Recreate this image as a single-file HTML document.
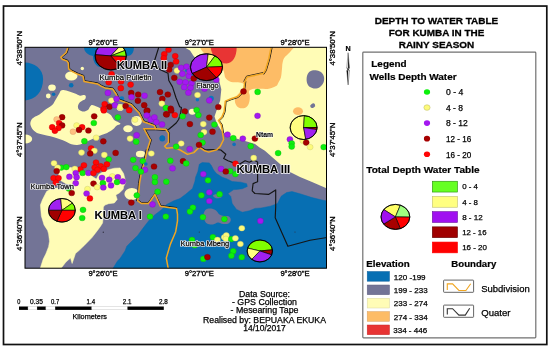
<!DOCTYPE html>
<html><head><meta charset="utf-8"><title>Depth to Water Table - Kumba</title>
<style>
html,body{margin:0;padding:0;background:#fff;}
body{width:552px;height:349px;overflow:hidden;}
svg{display:block;font-family:"Liberation Sans",Arial,sans-serif;}
</style></head><body>
<svg width="552" height="349" viewBox="0 0 552 349">
<rect width="552" height="349" fill="#fff"/>
<rect x="3.5" y="6.05" width="543.3" height="338.45" fill="none" stroke="#111" stroke-width="1.7"/>
<clipPath id="mc"><rect x="25" y="47.3" width="301.5" height="220.9"/></clipPath>
<g clip-path="url(#mc)"><rect x="25" y="47" width="302" height="222" fill="#737496"/>
<polygon points="184.0,47.0 190.0,50.5 193.4,55.7 205.0,68.0 219.0,80.0 221.3,89.2 220.2,100.6 216.8,109.8 214.5,116.6 216.8,123.5 221.3,130.4 227.1,135.0 236.2,138.4 247.7,141.8 255.0,144.1 259.6,147.4 264.9,150.8 272.0,157.0 280.0,164.0 290.0,172.0 300.0,177.0 312.0,182.0 327.0,188.5 330.0,188.5 330.0,44.0 184.0,44.0" fill="#fffcb6" />
<path d="M200.0,44.0 C184.2,44.5 199.5,45.7 200.0,47.0 C200.5,48.3 201.0,49.8 203.0,52.0 C205.0,54.2 208.7,57.2 212.0,60.0 C215.3,62.8 220.4,65.7 222.6,68.7 C224.8,71.7 224.2,75.7 225.4,77.8 C226.6,79.9 228.1,80.7 229.9,81.4 C231.7,82.2 234.1,82.0 236.2,82.3 C238.3,82.6 241.2,82.6 242.6,83.2 C244.0,83.8 245.0,84.3 244.4,86.0 C243.8,87.7 240.5,91.2 239.0,93.2 C237.5,95.2 235.9,96.0 235.3,97.7 C234.7,99.4 234.7,101.5 235.3,103.2 C235.9,104.9 237.3,107.0 239.0,107.7 C240.7,108.5 243.7,108.5 245.3,107.7 C247.0,107.0 248.2,105.2 248.9,103.2 C249.7,101.2 249.8,97.9 249.8,95.9 C249.8,93.9 248.5,92.6 248.9,91.4 C249.3,90.2 250.7,89.5 252.5,89.0 C254.3,88.5 257.1,88.8 259.8,88.7 C262.5,88.7 266.1,89.2 268.8,88.7 C271.5,88.2 274.5,87.0 276.1,86.0 C277.7,85.0 277.4,84.3 278.2,82.9 C279.0,81.5 280.3,79.8 280.9,77.5 C281.5,75.2 281.7,71.2 282.0,68.8 C282.3,66.4 282.1,65.1 282.5,63.3 C282.9,61.5 283.0,59.7 284.2,57.9 C285.4,56.1 288.1,54.0 289.6,52.4 C291.1,50.8 292.6,49.5 293.4,48.1 C294.2,46.7 310.1,44.7 294.5,44.0 C278.9,43.3 215.8,43.5 200.0,44.0 Z" fill="#fdbc66" />
<path d="M210.5,44 L236.5,44 C237.5,54 234,63.3 226.5,63.5 C218,63.5 212,57 210.5,47 Z" fill="#e83434"/>
<path d="M306.6,79.0 C306.7,77.2 307.1,74.9 308.0,73.5 C308.9,72.1 310.5,71.1 312.0,70.6 C313.5,70.1 315.4,70.1 317.0,70.4 C318.6,70.7 320.3,71.4 321.5,72.5 C322.7,73.6 323.7,75.3 324.0,77.0 C324.3,78.7 324.2,80.8 323.5,82.5 C322.8,84.2 321.4,86.0 320.0,87.0 C318.6,88.0 316.7,88.5 315.0,88.5 C313.3,88.5 311.2,87.8 310.0,87.0 C308.8,86.2 308.1,85.3 307.5,84.0 C306.9,82.7 306.5,80.8 306.6,79.0 Z" fill="#737496" />
<ellipse cx="312.7" cy="105.7" rx="2.6" ry="2.1" fill="#737496" transform="rotate(-30 312.7 105.7)"/>
<ellipse cx="298" cy="111.2" rx="5" ry="3.9" fill="#fdbc66"/>
<path d="M44.9,110.0 C47.0,108.4 50.5,106.5 52.2,105.0 C53.9,103.5 53.8,102.6 55.0,100.7 C56.2,98.8 58.3,95.3 59.3,93.6 C60.2,91.9 60.0,91.3 60.7,90.7 C61.4,90.1 62.2,89.9 63.6,90.0 C65.0,90.1 67.4,90.8 69.3,91.4 C71.2,92.0 73.2,92.9 75.0,93.6 C76.8,94.3 78.5,95.5 80.0,95.7 C81.5,95.9 83.3,94.9 84.3,95.0 C85.3,95.1 85.7,95.8 85.8,96.5 C85.9,97.2 85.6,98.6 85.0,99.3 C84.4,100.0 83.2,100.1 82.2,100.7 C81.2,101.3 80.0,101.9 79.3,102.9 C78.6,103.9 77.9,105.3 77.9,106.5 C77.9,107.7 78.3,109.2 79.3,110.0 C80.2,110.8 82.2,111.5 83.6,111.5 C85.0,111.5 86.8,110.8 87.9,110.0 C89.0,109.2 89.4,107.3 90.1,106.5 C90.8,105.7 91.1,105.0 92.2,105.0 C93.3,105.0 94.8,105.8 96.5,106.5 C98.2,107.2 100.5,108.3 102.2,109.3 C103.9,110.2 105.1,111.2 106.5,112.2 C107.9,113.2 109.6,113.9 110.8,115.1 C112.0,116.3 112.7,118.3 113.7,119.4 C114.7,120.5 115.9,120.8 117.0,121.5 C118.1,122.2 120.6,123.1 120.5,123.8 C120.4,124.5 117.8,124.8 116.5,125.7 C115.2,126.6 114.5,128.1 113.0,129.3 C111.5,130.5 109.1,132.0 107.2,132.9 C105.3,133.8 103.6,134.2 101.5,135.0 C99.4,135.8 96.6,136.9 94.4,137.9 C92.2,138.9 90.5,139.9 88.6,140.8 C86.7,141.8 84.8,142.9 82.9,143.6 C81.0,144.3 79.1,145.0 77.2,145.1 C75.3,145.2 73.4,144.9 71.5,144.3 C69.6,143.7 67.6,142.3 65.7,141.5 C63.8,140.7 62.0,140.0 60.0,139.3 C58.0,138.6 56.2,137.8 54.0,137.2 C51.8,136.5 49.3,136.0 46.7,135.4 C44.1,134.8 40.9,134.5 38.6,133.6 C36.4,132.7 34.6,131.4 33.2,129.9 C31.8,128.4 30.7,126.2 30.4,124.5 C30.1,122.8 30.7,121.2 31.3,120.0 C31.9,118.8 32.7,118.1 34.1,117.2 C35.5,116.3 37.7,115.7 39.5,114.5 C41.3,113.3 42.8,111.6 44.9,110.0 Z" fill="#fffcb6" />
<ellipse cx="25" cy="139" rx="7.2" ry="4.6" fill="#fffcb6"/>
<ellipse cx="71.3" cy="76" rx="6.2" ry="4.5" fill="#fffcb6"/>
<ellipse cx="82.3" cy="68.5" rx="1.7" ry="1.7" fill="#fffcb6"/>
<ellipse cx="52" cy="87.7" rx="3.8" ry="3.1" fill="#fffcb6"/>
<ellipse cx="48.3" cy="96" rx="2.4" ry="2.4" fill="#fffcb6"/>
<ellipse cx="128" cy="128.7" rx="4.8" ry="3.5" fill="#fffcb6"/>
<ellipse cx="136.6" cy="120.9" rx="5.3" ry="5" fill="#fffcb6"/>
<ellipse cx="140.5" cy="154" rx="4.6" ry="3.3" fill="#fffcb6"/>
<ellipse cx="131.9" cy="194" rx="7.5" ry="6" fill="#fffcb6"/>
<ellipse cx="192.3" cy="111.8" rx="3.4" ry="3" fill="#fffcb6"/>
<ellipse cx="120.2" cy="107.4" rx="3.6" ry="3.4" fill="#fffcb6"/>
<polygon points="55.2,167.9 61.2,166.3 75.7,168.2 82.0,170.5 88.0,173.5 92.5,176.5 96.3,179.0 98.9,174.2 104.1,171.2 109.2,169.5 114.4,168.2 120.0,167.9 123.6,173.6 125.1,179.3 125.8,182.2 123.7,186.5 123.2,189.3 119.4,192.9 115.8,195.0 117.2,199.4 114.3,203.0 108.6,203.7 105.0,205.0 103.4,207.0 103.2,212.0 103.1,218.0 102.6,223.0 100.4,226.5 97.5,230.4 92.0,237.6 84.8,244.9 79.3,250.3 75.5,253.5 73.5,259.5 72.1,263.5 70.5,258.0 66.0,262.0 60.5,269.0 40.0,269.0 43.1,259.3 45.8,253.9 48.6,246.7 49.5,241.2 48.6,234.0 47.6,230.4 44.0,224.9 41.3,215.9 40.4,205.0 42.3,200.0 46.6,191.5 50.9,188.7 56.7,188.0 63.8,189.4 69.5,188.0 72.0,185.5 66.0,183.7 61.0,180.8 58.1,178.7 58.8,172.9" fill="#fffcb6" stroke="#fffcb6" stroke-width="0.5" stroke-linejoin="round"/>
<path d="M24,62.4 C33,62 43.1,68 43.1,79 C43.1,92 35,100.4 24,100.4 Z" fill="#076fb3"/>
<path d="M84,44 L134,44 C134.5,52 132,56 127,56 L122,56 L101,67 C96,67 93,62 93,56 C88,55 84,52 84,47 Z" fill="#076fb3"/>
<circle cx="71.2" cy="85.2" r="2.3" fill="#076fb3"/><circle cx="53.6" cy="94.2" r="1.8" fill="#076fb3"/><circle cx="162.3" cy="138.6" r="2.9" fill="#076fb3"/><circle cx="162.3" cy="137.8" r="2.6" fill="#076fb3"/><circle cx="186.5" cy="70.5" r="1.6" fill="#0a78c0"/><circle cx="191.5" cy="74.6" r="1.5" fill="#0a78c0"/><circle cx="121.8" cy="98.6" r="2.4" fill="#0a78c0"/><circle cx="197.4" cy="99.8" r="1.7" fill="#0a78c0"/><circle cx="211.2" cy="98.4" r="2.6" fill="#0a78c0"/>
<polygon points="112.0,270.0 117.5,261.0 120.0,258.5 125.0,251.0 126.8,246.2 132.2,240.8 137.7,235.4 143.1,228.1 148.6,220.9 154.0,215.4 161.2,210.0 166.7,204.4 173.9,200.8 180.0,198.5 186.0,194.0 192.5,188.5 195.0,181.0 195.6,177.2 197.9,171.5 199.3,164.3 202.2,162.6 209.3,162.9 211.5,165.8 213.6,170.0 216.5,173.6 222.2,177.2 226.5,178.7 232.2,181.5 240.8,182.2 246.6,183.7 247.3,186.5 242.3,188.7 236.5,189.4 233.7,189.6 228.0,193.6 230.8,196.5 232.2,203.6 236.5,209.4 242.3,212.2 249.4,210.8 255.0,208.4 261.2,208.0 270.3,206.2 277.5,203.5 281.2,196.2 286.6,192.6 292.0,191.6 300.0,193.8 312.0,197.6 322.0,200.0 327.0,201.0 330.0,201.0 330.0,270.0" fill="#076fb3" stroke="#076fb3" stroke-width="0.5" stroke-linejoin="round"/>
<path d="M203.6,214.0 C203.9,212.4 204.8,210.4 206.0,209.5 C207.2,208.6 209.3,208.4 211.0,208.6 C212.7,208.8 214.6,209.5 216.0,210.5 C217.4,211.5 218.2,213.6 219.5,214.5 C220.8,215.4 222.4,215.7 224.0,216.0 C225.6,216.3 227.9,215.8 229.0,216.5 C230.1,217.2 230.9,218.8 230.8,220.0 C230.7,221.2 229.8,222.8 228.5,223.5 C227.2,224.2 224.8,224.2 223.0,224.0 C221.2,223.8 219.7,222.4 218.0,222.5 C216.3,222.6 214.8,224.2 213.0,224.4 C211.2,224.6 208.5,224.4 207.0,223.5 C205.5,222.6 204.6,220.6 204.0,219.0 C203.4,217.4 203.3,215.6 203.6,214.0 Z" fill="#737496" />
<path d="M213.0,195.5 C213.2,194.8 215.5,194.2 217.0,194.0 C218.5,193.8 221.3,193.9 222.0,194.5 C222.7,195.1 222.0,196.9 221.0,197.5 C220.0,198.1 217.3,198.5 216.0,198.2 C214.7,197.9 212.8,196.2 213.0,195.5 Z" fill="#737496" />
<polyline points="68.6,43.9 68.9,47.7 66.9,53.3 61.8,57.3 62.8,58.4 67.9,60.3 69.4,63.1 69.6,68.5 71.6,70.0 78.2,73.3 83.8,75.4 84.8,80.7 92.6,82.0 97.9,82.9 101.9,85.5 105.3,86.9 113.2,88.0 116.9,93.5 119.6,99.2 125.6,101.4 132.1,103.8 137.9,110.3 139.7,112.1 143.0,118.7 144.1,121.0 155.0,124.8 156.6,128.4" fill="none" stroke="#151515" stroke-width="0.95" stroke-linejoin="round" stroke-linecap="round"/>
<polyline points="144.0,129.8 155.6,129.8 165.8,130.5" fill="none" stroke="#151515" stroke-width="0.95" stroke-linejoin="round" stroke-linecap="round"/>
<polyline points="144.9,128.3 150.0,137.9 151.5,139.6 148.2,150.3" fill="none" stroke="#151515" stroke-width="0.95" stroke-linejoin="round" stroke-linecap="round"/>
<polyline points="146.2,149.8 143.9,160.5 141.2,169.5 140.3,172.8 138.5,183.5 137.6,194.3 136.7,200.7" fill="none" stroke="#151515" stroke-width="0.95" stroke-linejoin="round" stroke-linecap="round"/>
<polyline points="138.3,200.0 141.6,202.6 148.1,202.6 155.0,193.4 160.9,205.4 168.6,206.5 176.7,207.6" fill="none" stroke="#151515" stroke-width="0.95" stroke-linejoin="round" stroke-linecap="round"/>
<polyline points="166.7,128.9 169.5,133.1 169.5,142.4" fill="none" stroke="#151515" stroke-width="0.95" stroke-linejoin="round" stroke-linecap="round"/>
<polyline points="223.5,132.5 222.2,124.6 219.4,120.7 222.7,117.7 225.2,111.6 226.1,101.7 231.3,99.7 238.4,97.4 244.5,91.2 245.8,81.7" fill="none" stroke="#151515" stroke-width="0.95" stroke-linejoin="round" stroke-linecap="round"/>
<polyline points="243.9,81.2 246.5,76.2 262.9,72.6" fill="none" stroke="#151515" stroke-width="0.95" stroke-linejoin="round" stroke-linecap="round"/>
<polyline points="263.9,74.2 266.3,70.6 269.8,58.9 272.1,47.5 272.6,44.1" fill="none" stroke="#151515" stroke-width="0.95" stroke-linejoin="round" stroke-linecap="round"/>
<polyline points="159.8,44.0 154.3,61.5 159.8,69.6 168.0,73.3 168.8,80.5 172.5,86.9 176.0,97.7 179.7,106.8 181.4,107.6 180.7,112.7 178.8,119.2 176.2,123.0 172.4,126.3 168.5,129.5" fill="none" stroke="#151515" stroke-width="1.15" stroke-linejoin="round" stroke-linecap="round"/>
<polyline points="201.5,147.5 205.6,149.9 215.6,149.5 220.8,150.0 225.8,154.3 223.7,158.6 228.0,160.7 233.7,162.9 239.4,164.3 245.1,160.7 249.4,162.2 253.7,160.0 257.6,162.0 257.6,181.7 253.1,183.6 252.2,190.8 254.9,193.5 268.5,194.4 275.7,189.9 275.7,207.1 275.2,217.7 287.9,246.3 310.0,240.3 330.0,237.0" fill="none" stroke="#151515" stroke-width="1.15" stroke-linejoin="round" stroke-linecap="round"/>
<polyline points="67.6,44.0 67.9,47.6 66.0,52.7 60.8,57.2 62.1,59.2 67.2,61.1 68.4,63.4 68.7,69.0 71.0,70.9 77.8,74.3 83.0,76.1 84.1,81.5 92.4,83.0 97.5,83.9 101.4,86.4 105.0,87.9 112.6,88.9 116.0,94.0 118.9,100.0 125.2,102.4 131.5,104.7 137.1,111.0 138.9,112.7 142.1,119.2 143.4,121.8 154.3,125.6 155.6,128.8" fill="none" stroke="#f0a622" stroke-width="1.5" stroke-linejoin="round" stroke-linecap="round"/>
<polyline points="144.0,128.8 155.6,128.8 165.9,129.5" fill="none" stroke="#f0a622" stroke-width="1.5" stroke-linejoin="round" stroke-linecap="round"/>
<polyline points="165.9,129.5 168.5,133.4 168.5,142.4 164.6,146.2 166.6,148.2 173.7,147.5 180.1,150.0 187.5,154.4 193.8,152.6 199.3,147.1 204.7,150.8 208.7,152.1 216.8,149.8 220.2,146.4 223.6,139.5 222.5,132.7 221.3,125.0 218.4,120.6 221.9,117.1 224.2,111.4 225.3,101.1 231.0,98.8 237.9,96.5 243.6,90.8 244.8,81.6 247.1,77.0 263.1,73.6 265.4,70.2 268.8,58.7 271.1,47.3 271.6,44.0" fill="none" stroke="#f0a622" stroke-width="1.5" stroke-linejoin="round" stroke-linecap="round"/>
<polyline points="144.0,128.8 149.2,138.5 150.5,139.8 147.2,150.0 144.9,160.7 142.2,169.8 141.3,173.0 139.5,183.6 138.6,194.4 137.7,200.8 141.3,203.5 148.6,203.5 154.9,194.4 160.3,206.2 168.5,207.5 176.6,208.6 177.5,214.3 177.5,220.9 175.7,231.7 170.3,244.4 166.3,258.0 168.5,270.0" fill="none" stroke="#f0a622" stroke-width="1.5" stroke-linejoin="round" stroke-linecap="round"/>
<ellipse cx="111.6" cy="74.2" rx="3" ry="2.85" fill="#ff0505" stroke="#c00000" stroke-width="0.35"/>
<ellipse cx="108.7" cy="82.3" rx="3" ry="2.85" fill="#ff0505" stroke="#c00000" stroke-width="0.35"/>
<ellipse cx="121.0" cy="81.4" rx="3" ry="2.85" fill="#ff0505" stroke="#c00000" stroke-width="0.35"/>
<ellipse cx="120.8" cy="88.2" rx="3" ry="2.85" fill="#ff0505" stroke="#c00000" stroke-width="0.35"/>
<ellipse cx="107.9" cy="92.9" rx="3" ry="2.85" fill="#a418f0" stroke="#7a10b0" stroke-width="0.35"/>
<ellipse cx="111.4" cy="100.5" rx="3" ry="2.8" fill="#fdfa7a" stroke="#c8c870" stroke-width="0.4"/>
<ellipse cx="116.6" cy="98.9" rx="3" ry="2.85" fill="#a418f0" stroke="#7a10b0" stroke-width="0.35"/>
<ellipse cx="104.7" cy="104.2" rx="3" ry="2.85" fill="#ff0505" stroke="#c00000" stroke-width="0.35"/>
<ellipse cx="109.5" cy="106.8" rx="3" ry="2.85" fill="#a60000" stroke="#780000" stroke-width="0.35"/>
<ellipse cx="115.0" cy="105.2" rx="3" ry="2.85" fill="#a418f0" stroke="#7a10b0" stroke-width="0.35"/>
<ellipse cx="103.5" cy="109.0" rx="3" ry="2.85" fill="#ff0505" stroke="#c00000" stroke-width="0.35"/>
<ellipse cx="130.6" cy="84.6" rx="3" ry="2.85" fill="#ff0505" stroke="#c00000" stroke-width="0.35"/>
<ellipse cx="131.2" cy="92.9" rx="3" ry="2.85" fill="#a60000" stroke="#780000" stroke-width="0.35"/>
<ellipse cx="138.2" cy="94.5" rx="3" ry="2.85" fill="#a60000" stroke="#780000" stroke-width="0.35"/>
<ellipse cx="144.5" cy="95.7" rx="3" ry="2.85" fill="#a418f0" stroke="#7a10b0" stroke-width="0.35"/>
<ellipse cx="131.5" cy="97.1" rx="3" ry="2.85" fill="#a418f0" stroke="#7a10b0" stroke-width="0.35"/>
<ellipse cx="137.9" cy="100.8" rx="3" ry="2.85" fill="#a60000" stroke="#780000" stroke-width="0.35"/>
<ellipse cx="120.2" cy="107.4" rx="3" ry="2.8" fill="#fdfa7a" stroke="#c8c870" stroke-width="0.4"/>
<ellipse cx="125.6" cy="106.0" rx="3" ry="2.85" fill="#a60000" stroke="#780000" stroke-width="0.35"/>
<ellipse cx="129.2" cy="110.2" rx="3" ry="2.85" fill="#ff0505" stroke="#c00000" stroke-width="0.35"/>
<ellipse cx="144.2" cy="105.2" rx="3" ry="2.85" fill="#a60000" stroke="#780000" stroke-width="0.35"/>
<ellipse cx="147.3" cy="110.6" rx="3" ry="2.85" fill="#a60000" stroke="#780000" stroke-width="0.35"/>
<ellipse cx="147.0" cy="115.3" rx="3" ry="2.85" fill="#a418f0" stroke="#7a10b0" stroke-width="0.35"/>
<ellipse cx="150.8" cy="119.4" rx="3" ry="2.85" fill="#a418f0" stroke="#7a10b0" stroke-width="0.35"/>
<ellipse cx="154.4" cy="117.3" rx="3" ry="2.85" fill="#a418f0" stroke="#7a10b0" stroke-width="0.35"/>
<ellipse cx="156.3" cy="122.1" rx="3" ry="2.85" fill="#a418f0" stroke="#7a10b0" stroke-width="0.35"/>
<ellipse cx="162.0" cy="124.4" rx="3" ry="2.85" fill="#a418f0" stroke="#7a10b0" stroke-width="0.35"/>
<ellipse cx="117.8" cy="117.3" rx="3" ry="2.85" fill="#0cf00c" stroke="#10a810" stroke-width="0.35"/>
<ellipse cx="135.0" cy="119.7" rx="3" ry="2.8" fill="#fdfa7a" stroke="#c8c870" stroke-width="0.4"/>
<ellipse cx="160.0" cy="92.1" rx="3" ry="2.85" fill="#a60000" stroke="#780000" stroke-width="0.35"/>
<ellipse cx="162.3" cy="98.9" rx="3" ry="2.85" fill="#a60000" stroke="#780000" stroke-width="0.35"/>
<ellipse cx="167.8" cy="94.5" rx="3" ry="2.85" fill="#a60000" stroke="#780000" stroke-width="0.35"/>
<ellipse cx="161.8" cy="103.6" rx="3" ry="2.8" fill="#fdfa7a" stroke="#c8c870" stroke-width="0.4"/>
<ellipse cx="165.9" cy="107.9" rx="3" ry="2.85" fill="#0cf00c" stroke="#10a810" stroke-width="0.35"/>
<ellipse cx="166.2" cy="114.2" rx="3" ry="2.85" fill="#a60000" stroke="#780000" stroke-width="0.35"/>
<ellipse cx="170.7" cy="108.6" rx="3" ry="2.85" fill="#a60000" stroke="#780000" stroke-width="0.35"/>
<ellipse cx="136.6" cy="135.2" rx="3" ry="2.85" fill="#a418f0" stroke="#7a10b0" stroke-width="0.35"/>
<ellipse cx="130.0" cy="138.6" rx="3" ry="2.8" fill="#fdfa7a" stroke="#c8c870" stroke-width="0.4"/>
<ellipse cx="168.5" cy="49.7" rx="3" ry="2.85" fill="#ff0505" stroke="#c00000" stroke-width="0.35"/>
<ellipse cx="164.3" cy="54.2" rx="3" ry="2.85" fill="#ff0505" stroke="#c00000" stroke-width="0.35"/>
<ellipse cx="175.2" cy="56.1" rx="3" ry="2.85" fill="#ff0505" stroke="#c00000" stroke-width="0.35"/>
<ellipse cx="163.8" cy="58.2" rx="3" ry="2.85" fill="#ff0505" stroke="#c00000" stroke-width="0.35"/>
<ellipse cx="176.1" cy="61.5" rx="3" ry="2.85" fill="#ff0505" stroke="#c00000" stroke-width="0.35"/>
<ellipse cx="170.7" cy="64.8" rx="3" ry="2.85" fill="#a60000" stroke="#780000" stroke-width="0.35"/>
<ellipse cx="169.2" cy="69.6" rx="3" ry="2.85" fill="#a60000" stroke="#780000" stroke-width="0.35"/>
<ellipse cx="177.0" cy="70.6" rx="3" ry="2.8" fill="#fdfa7a" stroke="#c8c870" stroke-width="0.4"/>
<ellipse cx="181.2" cy="67.8" rx="3" ry="2.85" fill="#a418f0" stroke="#7a10b0" stroke-width="0.35"/>
<ellipse cx="186.6" cy="66.6" rx="3" ry="2.85" fill="#a418f0" stroke="#7a10b0" stroke-width="0.35"/>
<ellipse cx="182.4" cy="73.8" rx="3" ry="2.85" fill="#a418f0" stroke="#7a10b0" stroke-width="0.35"/>
<ellipse cx="188.8" cy="76.0" rx="3" ry="2.85" fill="#a418f0" stroke="#7a10b0" stroke-width="0.35"/>
<ellipse cx="189.6" cy="71.5" rx="3" ry="2.85" fill="#a418f0" stroke="#7a10b0" stroke-width="0.35"/>
<ellipse cx="174.3" cy="77.8" rx="3" ry="2.85" fill="#a60000" stroke="#780000" stroke-width="0.35"/>
<ellipse cx="179.7" cy="81.8" rx="3" ry="2.85" fill="#a418f0" stroke="#7a10b0" stroke-width="0.35"/>
<ellipse cx="185.5" cy="82.3" rx="3" ry="2.85" fill="#a418f0" stroke="#7a10b0" stroke-width="0.35"/>
<ellipse cx="191.5" cy="83.2" rx="3" ry="2.85" fill="#a418f0" stroke="#7a10b0" stroke-width="0.35"/>
<ellipse cx="184.2" cy="87.2" rx="3" ry="2.85" fill="#a418f0" stroke="#7a10b0" stroke-width="0.35"/>
<ellipse cx="190.6" cy="87.8" rx="3" ry="2.85" fill="#a418f0" stroke="#7a10b0" stroke-width="0.35"/>
<ellipse cx="188.4" cy="92.7" rx="3" ry="2.85" fill="#a418f0" stroke="#7a10b0" stroke-width="0.35"/>
<ellipse cx="193.8" cy="78.4" rx="3" ry="2.85" fill="#a60000" stroke="#780000" stroke-width="0.35"/>
<ellipse cx="197.5" cy="95.0" rx="3" ry="2.8" fill="#fdfa7a" stroke="#c8c870" stroke-width="0.4"/>
<ellipse cx="209.3" cy="100.4" rx="3" ry="2.85" fill="#a418f0" stroke="#7a10b0" stroke-width="0.35"/>
<ellipse cx="218.3" cy="107.0" rx="3" ry="2.85" fill="#a60000" stroke="#780000" stroke-width="0.35"/>
<ellipse cx="216.3" cy="79.7" rx="3" ry="2.85" fill="#a418f0" stroke="#7a10b0" stroke-width="0.35"/>
<ellipse cx="204.5" cy="88.7" rx="3" ry="2.85" fill="#a418f0" stroke="#7a10b0" stroke-width="0.35"/>
<ellipse cx="243.5" cy="91.4" rx="3" ry="2.85" fill="#a60000" stroke="#780000" stroke-width="0.35"/>
<ellipse cx="257.6" cy="91.9" rx="3" ry="2.85" fill="#0cf00c" stroke="#10a810" stroke-width="0.35"/>
<ellipse cx="257.5" cy="115.8" rx="3" ry="2.85" fill="#a418f0" stroke="#7a10b0" stroke-width="0.35"/>
<ellipse cx="196.6" cy="110.0" rx="3" ry="2.85" fill="#0cf00c" stroke="#10a810" stroke-width="0.35"/>
<ellipse cx="198.4" cy="115.1" rx="3" ry="2.85" fill="#0cf00c" stroke="#10a810" stroke-width="0.35"/>
<ellipse cx="209.3" cy="117.6" rx="3" ry="2.85" fill="#a60000" stroke="#780000" stroke-width="0.35"/>
<ellipse cx="203.3" cy="124.1" rx="3" ry="2.8" fill="#fdfa7a" stroke="#c8c870" stroke-width="0.4"/>
<ellipse cx="214.4" cy="124.5" rx="3" ry="2.85" fill="#0cf00c" stroke="#10a810" stroke-width="0.35"/>
<ellipse cx="204.0" cy="132.1" rx="3" ry="2.8" fill="#fdfa7a" stroke="#c8c870" stroke-width="0.4"/>
<ellipse cx="212.5" cy="131.7" rx="3" ry="2.85" fill="#a60000" stroke="#780000" stroke-width="0.35"/>
<ellipse cx="200.7" cy="135.0" rx="3" ry="2.85" fill="#0cf00c" stroke="#10a810" stroke-width="0.35"/>
<ellipse cx="202.5" cy="142.6" rx="3" ry="2.85" fill="#0cf00c" stroke="#10a810" stroke-width="0.35"/>
<ellipse cx="199.0" cy="144.8" rx="3" ry="2.85" fill="#a60000" stroke="#780000" stroke-width="0.35"/>
<ellipse cx="62.1" cy="117.2" rx="3" ry="2.85" fill="#a60000" stroke="#780000" stroke-width="0.35"/>
<ellipse cx="56.7" cy="119.4" rx="3" ry="2.85" fill="#ffc080" stroke="#d09060" stroke-width="0.35"/>
<ellipse cx="59.1" cy="123.0" rx="3" ry="2.85" fill="#ff0505" stroke="#c00000" stroke-width="0.35"/>
<ellipse cx="62.1" cy="125.4" rx="3" ry="2.85" fill="#a60000" stroke="#780000" stroke-width="0.35"/>
<ellipse cx="52.2" cy="127.2" rx="3" ry="2.85" fill="#ff0505" stroke="#c00000" stroke-width="0.35"/>
<ellipse cx="58.5" cy="128.1" rx="3" ry="2.85" fill="#ff0505" stroke="#c00000" stroke-width="0.35"/>
<ellipse cx="54.9" cy="130.8" rx="3" ry="2.85" fill="#ff0505" stroke="#c00000" stroke-width="0.35"/>
<ellipse cx="76.6" cy="125.4" rx="3" ry="2.8" fill="#fdfa7a" stroke="#c8c870" stroke-width="0.4"/>
<ellipse cx="82.1" cy="127.2" rx="3" ry="2.85" fill="#ff0505" stroke="#c00000" stroke-width="0.35"/>
<ellipse cx="79.0" cy="129.9" rx="3" ry="2.85" fill="#a60000" stroke="#780000" stroke-width="0.35"/>
<ellipse cx="73.0" cy="131.7" rx="3" ry="2.85" fill="#ffc080" stroke="#d09060" stroke-width="0.35"/>
<ellipse cx="88.4" cy="130.5" rx="3" ry="2.85" fill="#a60000" stroke="#780000" stroke-width="0.35"/>
<ellipse cx="94.2" cy="116.3" rx="3" ry="2.85" fill="#a60000" stroke="#780000" stroke-width="0.35"/>
<ellipse cx="93.8" cy="123.0" rx="3" ry="2.85" fill="#0cf00c" stroke="#10a810" stroke-width="0.35"/>
<ellipse cx="103.8" cy="110.5" rx="3" ry="2.85" fill="#ff0505" stroke="#c00000" stroke-width="0.35"/>
<ellipse cx="96.2" cy="137.7" rx="3" ry="2.8" fill="#fdfa7a" stroke="#c8c870" stroke-width="0.4"/>
<ellipse cx="84.4" cy="141.2" rx="3" ry="2.85" fill="#0cf00c" stroke="#10a810" stroke-width="0.35"/>
<ellipse cx="103.3" cy="141.3" rx="3" ry="2.85" fill="#a60000" stroke="#780000" stroke-width="0.35"/>
<ellipse cx="91.1" cy="148.4" rx="3" ry="2.85" fill="#ff0505" stroke="#c00000" stroke-width="0.35"/>
<ellipse cx="94.4" cy="150.8" rx="3" ry="2.8" fill="#fdfa7a" stroke="#c8c870" stroke-width="0.4"/>
<ellipse cx="90.2" cy="153.5" rx="3" ry="2.85" fill="#a60000" stroke="#780000" stroke-width="0.35"/>
<ellipse cx="81.5" cy="152.6" rx="3" ry="2.8" fill="#fdfa7a" stroke="#c8c870" stroke-width="0.4"/>
<ellipse cx="104.3" cy="154.9" rx="3" ry="2.8" fill="#fdfa7a" stroke="#c8c870" stroke-width="0.4"/>
<ellipse cx="115.6" cy="152.9" rx="3" ry="2.85" fill="#a60000" stroke="#780000" stroke-width="0.35"/>
<ellipse cx="108.7" cy="159.3" rx="3" ry="2.85" fill="#0cf00c" stroke="#10a810" stroke-width="0.35"/>
<ellipse cx="106.9" cy="164.3" rx="3" ry="2.85" fill="#ff0505" stroke="#c00000" stroke-width="0.35"/>
<ellipse cx="96.0" cy="162.5" rx="3" ry="2.85" fill="#ff0505" stroke="#c00000" stroke-width="0.35"/>
<ellipse cx="100.7" cy="166.2" rx="3" ry="2.85" fill="#ff0505" stroke="#c00000" stroke-width="0.35"/>
<ellipse cx="94.7" cy="167.6" rx="3" ry="2.85" fill="#ff0505" stroke="#c00000" stroke-width="0.35"/>
<ellipse cx="103.8" cy="168.9" rx="3" ry="2.85" fill="#ff0505" stroke="#c00000" stroke-width="0.35"/>
<ellipse cx="97.5" cy="169.8" rx="3" ry="2.85" fill="#ff0505" stroke="#c00000" stroke-width="0.35"/>
<ellipse cx="83.9" cy="165.3" rx="3" ry="2.85" fill="#ff0505" stroke="#c00000" stroke-width="0.35"/>
<ellipse cx="80.3" cy="169.4" rx="3" ry="2.85" fill="#ff0505" stroke="#c00000" stroke-width="0.35"/>
<ellipse cx="74.8" cy="168.9" rx="3" ry="2.8" fill="#fdfa7a" stroke="#c8c870" stroke-width="0.4"/>
<ellipse cx="54.0" cy="163.2" rx="3" ry="2.8" fill="#fdfa7a" stroke="#c8c870" stroke-width="0.4"/>
<ellipse cx="61.2" cy="167.6" rx="3" ry="2.85" fill="#0cf00c" stroke="#10a810" stroke-width="0.35"/>
<ellipse cx="66.3" cy="167.1" rx="3" ry="2.85" fill="#0cf00c" stroke="#10a810" stroke-width="0.35"/>
<ellipse cx="57.6" cy="167.6" rx="3" ry="2.8" fill="#fdfa7a" stroke="#c8c870" stroke-width="0.4"/>
<ellipse cx="56.7" cy="171.0" rx="3" ry="2.85" fill="#a60000" stroke="#780000" stroke-width="0.35"/>
<ellipse cx="146.7" cy="110.9" rx="3" ry="2.85" fill="#a60000" stroke="#780000" stroke-width="0.35"/>
<ellipse cx="146.7" cy="115.4" rx="3" ry="2.85" fill="#a418f0" stroke="#7a10b0" stroke-width="0.35"/>
<ellipse cx="166.7" cy="114.5" rx="3" ry="2.85" fill="#a60000" stroke="#780000" stroke-width="0.35"/>
<ellipse cx="174.8" cy="115.1" rx="3" ry="2.85" fill="#ff0505" stroke="#c00000" stroke-width="0.35"/>
<ellipse cx="171.2" cy="110.5" rx="3" ry="2.85" fill="#a60000" stroke="#780000" stroke-width="0.35"/>
<ellipse cx="184.8" cy="111.4" rx="3" ry="2.85" fill="#a60000" stroke="#780000" stroke-width="0.35"/>
<ellipse cx="182.6" cy="116.3" rx="3" ry="2.85" fill="#0cf00c" stroke="#10a810" stroke-width="0.35"/>
<ellipse cx="189.9" cy="124.1" rx="3" ry="2.85" fill="#a60000" stroke="#780000" stroke-width="0.35"/>
<ellipse cx="136.2" cy="141.7" rx="3" ry="2.85" fill="#0cf00c" stroke="#10a810" stroke-width="0.35"/>
<ellipse cx="181.2" cy="143.5" rx="3" ry="2.8" fill="#fdfa7a" stroke="#c8c870" stroke-width="0.4"/>
<ellipse cx="176.1" cy="146.6" rx="3" ry="2.85" fill="#0cf00c" stroke="#10a810" stroke-width="0.35"/>
<ellipse cx="189.7" cy="149.0" rx="3" ry="2.85" fill="#a418f0" stroke="#7a10b0" stroke-width="0.35"/>
<ellipse cx="151.3" cy="153.5" rx="3" ry="2.8" fill="#fdfa7a" stroke="#c8c870" stroke-width="0.4"/>
<ellipse cx="133.2" cy="159.8" rx="3" ry="2.85" fill="#0cf00c" stroke="#10a810" stroke-width="0.35"/>
<ellipse cx="142.8" cy="161.1" rx="3" ry="2.85" fill="#0cf00c" stroke="#10a810" stroke-width="0.35"/>
<ellipse cx="135.5" cy="168.0" rx="3" ry="2.85" fill="#0cf00c" stroke="#10a810" stroke-width="0.35"/>
<ellipse cx="144.9" cy="169.8" rx="3" ry="2.85" fill="#a418f0" stroke="#7a10b0" stroke-width="0.35"/>
<ellipse cx="140.9" cy="171.6" rx="3" ry="2.85" fill="#0cf00c" stroke="#10a810" stroke-width="0.35"/>
<ellipse cx="154.0" cy="166.5" rx="3" ry="2.85" fill="#a60000" stroke="#780000" stroke-width="0.35"/>
<ellipse cx="170.3" cy="160.7" rx="3" ry="2.85" fill="#0cf00c" stroke="#10a810" stroke-width="0.35"/>
<ellipse cx="172.5" cy="168.3" rx="3" ry="2.85" fill="#a418f0" stroke="#7a10b0" stroke-width="0.35"/>
<ellipse cx="183.0" cy="161.1" rx="3" ry="2.85" fill="#a60000" stroke="#780000" stroke-width="0.35"/>
<ellipse cx="186.2" cy="163.4" rx="3" ry="2.85" fill="#0cf00c" stroke="#10a810" stroke-width="0.35"/>
<ellipse cx="221.1" cy="168.9" rx="3" ry="2.85" fill="#a418f0" stroke="#7a10b0" stroke-width="0.35"/>
<ellipse cx="227.5" cy="134.5" rx="3" ry="2.85" fill="#a418f0" stroke="#7a10b0" stroke-width="0.35"/>
<ellipse cx="233.3" cy="138.1" rx="3" ry="2.85" fill="#0cf00c" stroke="#10a810" stroke-width="0.35"/>
<ellipse cx="242.8" cy="138.6" rx="3" ry="2.85" fill="#a418f0" stroke="#7a10b0" stroke-width="0.35"/>
<ellipse cx="254.9" cy="138.6" rx="3" ry="2.85" fill="#a60000" stroke="#780000" stroke-width="0.35"/>
<circle cx="234.1" cy="144.4" r="1.8" fill="#1170b8"/>
<ellipse cx="250.7" cy="146.2" rx="3" ry="2.85" fill="#0cf00c" stroke="#10a810" stroke-width="0.35"/>
<ellipse cx="278.1" cy="153.1" rx="3" ry="2.85" fill="#0cf00c" stroke="#10a810" stroke-width="0.35"/>
<ellipse cx="253.7" cy="157.9" rx="3" ry="2.8" fill="#fdfa7a" stroke="#c8c870" stroke-width="0.4"/>
<ellipse cx="235.5" cy="163.7" rx="3" ry="2.85" fill="#ff0505" stroke="#c00000" stroke-width="0.35"/>
<ellipse cx="289.9" cy="139.3" rx="3" ry="2.85" fill="#a418f0" stroke="#7a10b0" stroke-width="0.35"/>
<ellipse cx="291.7" cy="143.3" rx="3" ry="2.85" fill="#0cf00c" stroke="#10a810" stroke-width="0.35"/>
<ellipse cx="291.7" cy="146.6" rx="3" ry="2.85" fill="#0cf00c" stroke="#10a810" stroke-width="0.35"/>
<ellipse cx="302.9" cy="140.8" rx="3" ry="2.8" fill="#fdfa7a" stroke="#c8c870" stroke-width="0.4"/>
<ellipse cx="306.2" cy="142.6" rx="3" ry="2.85" fill="#a60000" stroke="#780000" stroke-width="0.35"/>
<ellipse cx="310.1" cy="147.1" rx="3" ry="2.8" fill="#fdfa7a" stroke="#c8c870" stroke-width="0.4"/>
<ellipse cx="323.7" cy="147.1" rx="3" ry="2.85" fill="#0cf00c" stroke="#10a810" stroke-width="0.35"/>
<ellipse cx="230.1" cy="171.1" rx="3" ry="2.85" fill="#0cf00c" stroke="#10a810" stroke-width="0.35"/>
<ellipse cx="225.8" cy="171.5" rx="3" ry="2.85" fill="#a60000" stroke="#780000" stroke-width="0.35"/>
<ellipse cx="235.4" cy="174.1" rx="3" ry="2.85" fill="#0cf00c" stroke="#10a810" stroke-width="0.35"/>
<ellipse cx="75.7" cy="173.0" rx="3" ry="2.85" fill="#a418f0" stroke="#7a10b0" stroke-width="0.35"/>
<ellipse cx="82.6" cy="173.0" rx="3" ry="2.85" fill="#0cf00c" stroke="#10a810" stroke-width="0.35"/>
<ellipse cx="88.4" cy="173.0" rx="3" ry="2.85" fill="#a418f0" stroke="#7a10b0" stroke-width="0.35"/>
<ellipse cx="93.5" cy="173.0" rx="3" ry="2.85" fill="#ff0505" stroke="#c00000" stroke-width="0.35"/>
<ellipse cx="69.4" cy="176.7" rx="3" ry="2.85" fill="#a418f0" stroke="#7a10b0" stroke-width="0.35"/>
<ellipse cx="76.6" cy="177.2" rx="3" ry="2.85" fill="#a418f0" stroke="#7a10b0" stroke-width="0.35"/>
<ellipse cx="75.7" cy="183.2" rx="3" ry="2.85" fill="#a418f0" stroke="#7a10b0" stroke-width="0.35"/>
<ellipse cx="53.6" cy="178.1" rx="3" ry="2.85" fill="#ff0505" stroke="#c00000" stroke-width="0.35"/>
<ellipse cx="58.5" cy="178.1" rx="3" ry="2.85" fill="#ff0505" stroke="#c00000" stroke-width="0.35"/>
<ellipse cx="55.8" cy="182.6" rx="3" ry="2.85" fill="#ff0505" stroke="#c00000" stroke-width="0.35"/>
<ellipse cx="68.8" cy="188.6" rx="3" ry="2.85" fill="#0cf00c" stroke="#10a810" stroke-width="0.35"/>
<ellipse cx="71.7" cy="193.0" rx="3" ry="2.85" fill="#a60000" stroke="#780000" stroke-width="0.35"/>
<ellipse cx="102.0" cy="177.8" rx="3" ry="2.85" fill="#a418f0" stroke="#7a10b0" stroke-width="0.35"/>
<ellipse cx="112.3" cy="176.3" rx="3" ry="2.8" fill="#fdfa7a" stroke="#c8c870" stroke-width="0.4"/>
<ellipse cx="109.2" cy="179.6" rx="3" ry="2.85" fill="#a418f0" stroke="#7a10b0" stroke-width="0.35"/>
<ellipse cx="117.8" cy="177.2" rx="3" ry="2.85" fill="#a418f0" stroke="#7a10b0" stroke-width="0.35"/>
<ellipse cx="93.5" cy="183.6" rx="3" ry="2.85" fill="#a60000" stroke="#780000" stroke-width="0.35"/>
<ellipse cx="102.9" cy="183.2" rx="3" ry="2.85" fill="#0cf00c" stroke="#10a810" stroke-width="0.35"/>
<ellipse cx="111.0" cy="185.4" rx="3" ry="2.85" fill="#a418f0" stroke="#7a10b0" stroke-width="0.35"/>
<ellipse cx="117.0" cy="182.1" rx="3" ry="2.85" fill="#0cf00c" stroke="#10a810" stroke-width="0.35"/>
<ellipse cx="122.8" cy="181.4" rx="3" ry="2.85" fill="#a418f0" stroke="#7a10b0" stroke-width="0.35"/>
<ellipse cx="97.1" cy="187.2" rx="3" ry="2.8" fill="#fdfa7a" stroke="#c8c870" stroke-width="0.4"/>
<ellipse cx="103.3" cy="187.5" rx="3" ry="2.85" fill="#a418f0" stroke="#7a10b0" stroke-width="0.35"/>
<ellipse cx="87.5" cy="189.0" rx="3" ry="2.8" fill="#fdfa7a" stroke="#c8c870" stroke-width="0.4"/>
<ellipse cx="86.6" cy="193.5" rx="3" ry="2.85" fill="#a418f0" stroke="#7a10b0" stroke-width="0.35"/>
<ellipse cx="89.9" cy="198.4" rx="3" ry="2.85" fill="#ff0505" stroke="#c00000" stroke-width="0.35"/>
<ellipse cx="83.0" cy="209.8" rx="3" ry="2.85" fill="#0cf00c" stroke="#10a810" stroke-width="0.35"/>
<ellipse cx="82.2" cy="218.0" rx="3" ry="2.85" fill="#0cf00c" stroke="#10a810" stroke-width="0.35"/>
<circle cx="145.8" cy="164.0" r="1.8" fill="#1170b8"/>
<ellipse cx="154.9" cy="177.2" rx="3" ry="2.85" fill="#0cf00c" stroke="#10a810" stroke-width="0.35"/>
<ellipse cx="154.9" cy="182.1" rx="3" ry="2.85" fill="#0cf00c" stroke="#10a810" stroke-width="0.35"/>
<ellipse cx="166.3" cy="181.7" rx="3" ry="2.85" fill="#0cf00c" stroke="#10a810" stroke-width="0.35"/>
<ellipse cx="157.6" cy="191.7" rx="3" ry="2.85" fill="#0cf00c" stroke="#10a810" stroke-width="0.35"/>
<ellipse cx="136.8" cy="195.3" rx="3" ry="2.85" fill="#0cf00c" stroke="#10a810" stroke-width="0.35"/>
<ellipse cx="131.3" cy="202.6" rx="3" ry="2.85" fill="#a60000" stroke="#780000" stroke-width="0.35"/>
<ellipse cx="152.5" cy="204.4" rx="3" ry="2.85" fill="#a418f0" stroke="#7a10b0" stroke-width="0.35"/>
<ellipse cx="150.0" cy="216.5" rx="3" ry="2.85" fill="#0cf00c" stroke="#10a810" stroke-width="0.35"/>
<ellipse cx="165.8" cy="216.5" rx="3" ry="2.85" fill="#0cf00c" stroke="#10a810" stroke-width="0.35"/>
<ellipse cx="203.3" cy="174.1" rx="3" ry="2.85" fill="#a418f0" stroke="#7a10b0" stroke-width="0.35"/>
<ellipse cx="208.0" cy="180.3" rx="3" ry="2.85" fill="#0cf00c" stroke="#10a810" stroke-width="0.35"/>
<ellipse cx="201.4" cy="195.3" rx="3" ry="2.85" fill="#0cf00c" stroke="#10a810" stroke-width="0.35"/>
<ellipse cx="209.3" cy="192.3" rx="3" ry="2.85" fill="#a418f0" stroke="#7a10b0" stroke-width="0.35"/>
<ellipse cx="219.6" cy="194.2" rx="3" ry="2.85" fill="#0cf00c" stroke="#10a810" stroke-width="0.35"/>
<ellipse cx="209.3" cy="201.0" rx="3" ry="2.85" fill="#a418f0" stroke="#7a10b0" stroke-width="0.35"/>
<ellipse cx="192.9" cy="207.5" rx="3" ry="2.85" fill="#0cf00c" stroke="#10a810" stroke-width="0.35"/>
<ellipse cx="189.9" cy="211.6" rx="3" ry="2.85" fill="#0cf00c" stroke="#10a810" stroke-width="0.35"/>
<ellipse cx="202.9" cy="217.2" rx="3" ry="2.85" fill="#0cf00c" stroke="#10a810" stroke-width="0.35"/>
<ellipse cx="224.4" cy="219.1" rx="3" ry="2.85" fill="#0cf00c" stroke="#10a810" stroke-width="0.35"/>
<ellipse cx="192.0" cy="239.9" rx="3" ry="2.85" fill="#0cf00c" stroke="#10a810" stroke-width="0.35"/>
<ellipse cx="194.7" cy="245.3" rx="3" ry="2.85" fill="#0cf00c" stroke="#10a810" stroke-width="0.35"/>
<ellipse cx="212.9" cy="237.2" rx="3" ry="2.85" fill="#0cf00c" stroke="#10a810" stroke-width="0.35"/>
<ellipse cx="217.4" cy="239.9" rx="3" ry="2.8" fill="#fdfa7a" stroke="#c8c870" stroke-width="0.4"/>
<ellipse cx="224.3" cy="237.2" rx="3" ry="2.8" fill="#fdfa7a" stroke="#c8c870" stroke-width="0.4"/>
<ellipse cx="203.3" cy="258.9" rx="3" ry="2.85" fill="#0cf00c" stroke="#10a810" stroke-width="0.35"/>
<ellipse cx="207.4" cy="257.1" rx="3" ry="2.85" fill="#a60000" stroke="#780000" stroke-width="0.35"/>
<ellipse cx="260.4" cy="220.9" rx="3" ry="2.85" fill="#a418f0" stroke="#7a10b0" stroke-width="0.35"/>
<ellipse cx="241.8" cy="228.2" rx="3" ry="2.8" fill="#fdfa7a" stroke="#c8c870" stroke-width="0.4"/>
<ellipse cx="226.3" cy="235.4" rx="3" ry="2.8" fill="#fdfa7a" stroke="#c8c870" stroke-width="0.4"/>
<ellipse cx="225.9" cy="238.8" rx="3" ry="2.8" fill="#fdfa7a" stroke="#c8c870" stroke-width="0.4"/>
<ellipse cx="231.4" cy="239.1" rx="3" ry="2.85" fill="#0cf00c" stroke="#10a810" stroke-width="0.35"/>
<ellipse cx="235.4" cy="238.2" rx="3" ry="2.8" fill="#fdfa7a" stroke="#c8c870" stroke-width="0.4"/>
<ellipse cx="240.4" cy="244.0" rx="3" ry="2.8" fill="#fdfa7a" stroke="#c8c870" stroke-width="0.4"/>
<ellipse cx="233.2" cy="251.2" rx="3" ry="2.85" fill="#0cf00c" stroke="#10a810" stroke-width="0.35"/>
<ellipse cx="231.4" cy="255.7" rx="3" ry="2.85" fill="#0cf00c" stroke="#10a810" stroke-width="0.35"/>
<ellipse cx="241.7" cy="257.2" rx="3" ry="2.85" fill="#0cf00c" stroke="#10a810" stroke-width="0.35"/>
<circle cx="103.3" cy="232.2" r="0.7" fill="#334"/><circle cx="199.3" cy="232.1" r="0.6" fill="#334"/><circle cx="295" cy="232" r="0.6" fill="#334"/>
<path d="M110.70,55.90 L95.16,54.68 A15.6,14 0 0 1 120.73,45.18 Z" fill="#a020f0" stroke="#000" stroke-width="0.63" stroke-linejoin="round"/>
<path d="M110.70,55.90 L120.73,45.18 A15.6,14 0 0 1 125.06,50.43 Z" fill="#ffff80" stroke="#000" stroke-width="0.63" stroke-linejoin="round"/>
<path d="M110.70,55.90 L125.06,50.43 A15.6,14 0 0 1 126.29,56.39 Z" fill="#80ff00" stroke="#000" stroke-width="0.63" stroke-linejoin="round"/>
<path d="M110.70,55.90 L126.29,56.39 A15.6,14 0 0 1 120.30,66.93 Z" fill="#ff0000" stroke="#000" stroke-width="0.63" stroke-linejoin="round"/>
<path d="M110.70,55.90 L120.30,66.93 A15.6,14 0 0 1 95.16,54.68 Z" fill="#a00000" stroke="#000" stroke-width="0.63" stroke-linejoin="round"/>
<ellipse cx="110.7" cy="55.9" rx="15.6" ry="14" fill="none" stroke="#000" stroke-width="0.9"/>
<path d="M206.50,67.20 L192.37,73.49 A16,13.4 0 0 1 208.17,53.87 Z" fill="#a020f0" stroke="#000" stroke-width="0.63" stroke-linejoin="round"/>
<path d="M206.50,67.20 L208.17,53.87 A16,13.4 0 0 1 214.98,55.84 Z" fill="#ffff80" stroke="#000" stroke-width="0.63" stroke-linejoin="round"/>
<path d="M206.50,67.20 L214.98,55.84 A16,13.4 0 0 1 222.48,66.50 Z" fill="#80ff00" stroke="#000" stroke-width="0.63" stroke-linejoin="round"/>
<path d="M206.50,67.20 L222.48,66.50 A16,13.4 0 0 1 216.35,77.76 Z" fill="#ff0000" stroke="#000" stroke-width="0.63" stroke-linejoin="round"/>
<path d="M206.50,67.20 L216.35,77.76 A16,13.4 0 0 1 192.37,73.49 Z" fill="#a00000" stroke="#000" stroke-width="0.63" stroke-linejoin="round"/>
<ellipse cx="206.5" cy="67.2" rx="16" ry="13.4" fill="none" stroke="#000" stroke-width="0.9"/>
<path d="M61.90,210.30 L48.50,210.30 A13.4,11.8 0 0 1 60.73,198.54 Z" fill="#a020f0" stroke="#000" stroke-width="0.63" stroke-linejoin="round"/>
<path d="M61.90,210.30 L60.73,198.54 A13.4,11.8 0 0 1 72.46,203.04 Z" fill="#ffff80" stroke="#000" stroke-width="0.63" stroke-linejoin="round"/>
<path d="M61.90,210.30 L72.46,203.04 A13.4,11.8 0 0 1 75.30,210.30 Z" fill="#80ff00" stroke="#000" stroke-width="0.63" stroke-linejoin="round"/>
<path d="M61.90,210.30 L75.30,210.30 A13.4,11.8 0 0 1 56.88,221.24 Z" fill="#ff0000" stroke="#000" stroke-width="0.63" stroke-linejoin="round"/>
<path d="M61.90,210.30 L56.88,221.24 A13.4,11.8 0 0 1 48.50,210.30 Z" fill="#a00000" stroke="#000" stroke-width="0.63" stroke-linejoin="round"/>
<ellipse cx="61.9" cy="210.3" rx="13.4" ry="11.8" fill="none" stroke="#000" stroke-width="0.9"/>
<path d="M303.65,127.55 L305.75,139.35 A13.45,11.95 0 1 1 304.35,115.62 Z" fill="#ffff80" stroke="#000" stroke-width="0.63" stroke-linejoin="round"/>
<path d="M303.65,127.55 L304.35,115.62 A13.45,11.95 0 0 1 317.10,127.55 Z" fill="#80ff00" stroke="#000" stroke-width="0.63" stroke-linejoin="round"/>
<path d="M303.65,127.55 L317.10,127.55 A13.45,11.95 0 0 1 317.09,127.97 Z" fill="#a00000" stroke="#000" stroke-width="0.63" stroke-linejoin="round"/>
<path d="M303.65,127.55 L317.09,127.97 A13.45,11.95 0 0 1 316.90,129.63 Z" fill="#ff0000" stroke="#000" stroke-width="0.63" stroke-linejoin="round"/>
<path d="M303.65,127.55 L316.90,129.63 A13.45,11.95 0 0 1 305.75,139.35 Z" fill="#a020f0" stroke="#000" stroke-width="0.63" stroke-linejoin="round"/>
<ellipse cx="303.65" cy="127.55" rx="13.45" ry="11.95" fill="none" stroke="#000" stroke-width="0.9"/>
<path d="M259.85,250.95 L247.63,248.12 A12.65,10.95 0 0 1 272.43,249.81 Z" fill="#80ff00" stroke="#000" stroke-width="0.63" stroke-linejoin="round"/>
<path d="M259.85,250.95 L272.43,249.81 A12.65,10.95 0 0 1 271.66,254.87 Z" fill="#a00000" stroke="#000" stroke-width="0.63" stroke-linejoin="round"/>
<path d="M259.85,250.95 L271.66,254.87 A12.65,10.95 0 0 1 251.72,259.34 Z" fill="#a020f0" stroke="#000" stroke-width="0.63" stroke-linejoin="round"/>
<path d="M259.85,250.95 L251.72,259.34 A12.65,10.95 0 0 1 247.63,248.12 Z" fill="#ffff80" stroke="#000" stroke-width="0.63" stroke-linejoin="round"/>
<ellipse cx="259.85" cy="250.95" rx="12.65" ry="10.95" fill="none" stroke="#000" stroke-width="0.9"/>
<text x="116.7" y="69.2" font-size="10" font-weight="bold" text-anchor="start" textLength="50.4" lengthAdjust="spacingAndGlyphs" fill="none" stroke="#fff" stroke-width="1.5" stroke-linejoin="round">KUMBA II</text><text x="116.7" y="69.2" font-size="10" font-weight="bold" text-anchor="start" textLength="50.4" lengthAdjust="spacingAndGlyphs" fill="#000" stroke="#000" stroke-width="0.1">KUMBA II</text>
<text x="99.6" y="79.8" font-size="6.7" font-weight="normal" text-anchor="start" textLength="52" lengthAdjust="spacingAndGlyphs" fill="none" stroke="#fff" stroke-width="1.5" stroke-linejoin="round">Kumba Pulletin</text><text x="99.6" y="79.8" font-size="6.7" font-weight="normal" text-anchor="start" textLength="52" lengthAdjust="spacingAndGlyphs" fill="#111" stroke="#111" stroke-width="0.28">Kumba Pulletin</text>
<text x="196.3" y="87.7" font-size="6.4" font-weight="normal" text-anchor="start" textLength="22.4" lengthAdjust="spacingAndGlyphs" fill="none" stroke="#fff" stroke-width="1.5" stroke-linejoin="round">Fiango</text><text x="196.3" y="87.7" font-size="6.4" font-weight="normal" text-anchor="start" textLength="22.4" lengthAdjust="spacingAndGlyphs" fill="#111" stroke="#111" stroke-width="0.28">Fiango</text>
<text x="256" y="136.7" font-size="6.6" font-weight="bold" text-anchor="start" textLength="17" lengthAdjust="spacingAndGlyphs" fill="none" stroke="#fff" stroke-width="1.2" stroke-linejoin="round">Ntam</text><text x="256" y="136.7" font-size="6.6" font-weight="bold" text-anchor="start" textLength="17" lengthAdjust="spacingAndGlyphs" fill="#000" stroke="#000" stroke-width="0.1">Ntam</text>
<text x="236.5" y="172.9" font-size="10.5" font-weight="bold" text-anchor="start" textLength="53.6" lengthAdjust="spacingAndGlyphs" fill="none" stroke="#fff" stroke-width="1.5" stroke-linejoin="round">KUMBA III</text><text x="236.5" y="172.9" font-size="10.5" font-weight="bold" text-anchor="start" textLength="53.6" lengthAdjust="spacingAndGlyphs" fill="#000" stroke="#000" stroke-width="0.1">KUMBA III</text>
<text x="30.6" y="188.5" font-size="6.8" font-weight="normal" text-anchor="start" textLength="43.4" lengthAdjust="spacingAndGlyphs" fill="none" stroke="#fff" stroke-width="1.5" stroke-linejoin="round">Kumba Town</text><text x="30.6" y="188.5" font-size="6.8" font-weight="normal" text-anchor="start" textLength="43.4" lengthAdjust="spacingAndGlyphs" fill="#111" stroke="#111" stroke-width="0.28">Kumba Town</text>
<text x="94.6" y="219.2" font-size="10.4" font-weight="bold" text-anchor="start" textLength="47.3" lengthAdjust="spacingAndGlyphs" fill="none" stroke="#fff" stroke-width="1.5" stroke-linejoin="round">KUMBA I</text><text x="94.6" y="219.2" font-size="10.4" font-weight="bold" text-anchor="start" textLength="47.3" lengthAdjust="spacingAndGlyphs" fill="#000" stroke="#000" stroke-width="0.1">KUMBA I</text>
<text x="180.6" y="245.6" font-size="6.6" font-weight="normal" text-anchor="start" textLength="48.7" lengthAdjust="spacingAndGlyphs" fill="none" stroke="#fff" stroke-width="1.5" stroke-linejoin="round">Kumba Mbeng</text><text x="180.6" y="245.6" font-size="6.6" font-weight="normal" text-anchor="start" textLength="48.7" lengthAdjust="spacingAndGlyphs" fill="#111" stroke="#111" stroke-width="0.28">Kumba Mbeng</text></g>
<rect x="25" y="47.3" width="301.5" height="220.9" fill="none" stroke="#000" stroke-width="1"/>
<text x="103" y="44.8" font-size="6.9" text-anchor="middle" textLength="29.2" lengthAdjust="spacingAndGlyphs" stroke="#000" stroke-width="0.3" >9°26'0"E</text>
<text x="103" y="276.1" font-size="6.9" text-anchor="middle" textLength="29.2" lengthAdjust="spacingAndGlyphs" stroke="#000" stroke-width="0.3" >9°26'0"E</text>
<text x="199.3" y="44.8" font-size="6.9" text-anchor="middle" textLength="29.2" lengthAdjust="spacingAndGlyphs" stroke="#000" stroke-width="0.3" >9°27'0"E</text>
<text x="199.3" y="276.1" font-size="6.9" text-anchor="middle" textLength="29.2" lengthAdjust="spacingAndGlyphs" stroke="#000" stroke-width="0.3" >9°27'0"E</text>
<text x="295" y="44.8" font-size="6.9" text-anchor="middle" textLength="29.2" lengthAdjust="spacingAndGlyphs" stroke="#000" stroke-width="0.3" >9°28'0"E</text>
<text x="295" y="276.1" font-size="6.9" text-anchor="middle" textLength="29.2" lengthAdjust="spacingAndGlyphs" stroke="#000" stroke-width="0.3" >9°28'0"E</text>
<text x="21.8" y="48.3" font-size="6.9" text-anchor="middle" textLength="34.6" lengthAdjust="spacingAndGlyphs" stroke="#000" stroke-width="0.3" transform="rotate(-90 21.8 48.3)">4°38'50"N</text>
<text x="335.4" y="48.3" font-size="6.9" text-anchor="middle" textLength="34.6" lengthAdjust="spacingAndGlyphs" stroke="#000" stroke-width="0.3" transform="rotate(-90 335.4 48.3)">4°38'50"N</text>
<text x="21.8" y="139.8" font-size="6.9" text-anchor="middle" textLength="34.6" lengthAdjust="spacingAndGlyphs" stroke="#000" stroke-width="0.3" transform="rotate(-90 21.8 139.8)">4°37'45"N</text>
<text x="335.4" y="139.8" font-size="6.9" text-anchor="middle" textLength="34.6" lengthAdjust="spacingAndGlyphs" stroke="#000" stroke-width="0.3" transform="rotate(-90 335.4 139.8)">4°37'45"N</text>
<text x="21.8" y="233.6" font-size="6.9" text-anchor="middle" textLength="34.6" lengthAdjust="spacingAndGlyphs" stroke="#000" stroke-width="0.3" transform="rotate(-90 21.8 233.6)">4°36'40"N</text>
<text x="335.4" y="233.6" font-size="6.9" text-anchor="middle" textLength="34.6" lengthAdjust="spacingAndGlyphs" stroke="#000" stroke-width="0.3" transform="rotate(-90 335.4 233.6)">4°36'40"N</text>
<text x="348" y="50.5" font-size="7.7" font-weight="bold" text-anchor="middle" textLength="5.2" lengthAdjust="spacingAndGlyphs" stroke="#000" stroke-width="0.2" >N</text>
<path d="M348.1,52.7 L349.4,67.7 L348.1,68.6 L346.8,67.7 Z" fill="#fff" stroke="#333" stroke-width="0.45"/>
<path d="M348.1,52.7 L349.4,67.7 L348.1,68.6 Z" fill="#111"/>
<path d="M348.1,70 L349.4,70.9 L348.1,84.9 L346.8,70.9 Z" fill="#fff" stroke="#333" stroke-width="0.45"/>
<path d="M348.1,70 L346.8,70.9 L348.1,84.9 Z" fill="#111"/>
<path d="M346.6,68.2 L349.6,70.4 M349.6,68.2 L346.6,70.4" stroke="#111" stroke-width="0.7"/>
<text x="436.5" y="24.05" font-size="9.7" font-weight="bold" text-anchor="middle" textLength="123.5" lengthAdjust="spacingAndGlyphs" stroke="#000" stroke-width="0.3" >DEPTH TO WATER TABLE</text>
<text x="436.5" y="35.8" font-size="9.7" font-weight="bold" text-anchor="middle" textLength="95.5" lengthAdjust="spacingAndGlyphs" stroke="#000" stroke-width="0.3" >FOR KUMBA IN THE</text>
<text x="436.5" y="47.5" font-size="9.7" font-weight="bold" text-anchor="middle" textLength="75.5" lengthAdjust="spacingAndGlyphs" stroke="#000" stroke-width="0.3" >RAINY SEASON</text>
<rect x="362.8" y="52.1" width="173" height="285.7" rx="0.8" fill="#fff" stroke="#707070" stroke-width="1.2"/>
<text x="371.3" y="67" font-size="9.1" font-weight="bold" textLength="35.3" lengthAdjust="spacingAndGlyphs" stroke="#000" stroke-width="0.2" >Legend</text>
<text x="369.6" y="79.6" font-size="9.3" font-weight="bold" textLength="87" lengthAdjust="spacingAndGlyphs" stroke="#000" stroke-width="0.2" >Wells Depth Water</text>
<ellipse cx="427" cy="92.00" rx="3.1" ry="2.8" fill="#0cf00c"/>
<text x="446" y="95.30" font-size="8.3" textLength="17.2" lengthAdjust="spacingAndGlyphs" stroke="#000" stroke-width="0.25" >0 - 4</text>
<ellipse cx="427" cy="107.55" rx="3.1" ry="2.8" fill="#fdfa7a" stroke="#b8b860" stroke-width="0.5"/>
<text x="446" y="110.85" font-size="8.3" textLength="17" lengthAdjust="spacingAndGlyphs" stroke="#000" stroke-width="0.25" >4 - 8</text>
<ellipse cx="427" cy="123.10" rx="3.1" ry="2.8" fill="#a418f0"/>
<text x="446" y="126.40" font-size="8.3" textLength="21.8" lengthAdjust="spacingAndGlyphs" stroke="#000" stroke-width="0.25" >8 - 12</text>
<ellipse cx="427" cy="138.65" rx="3.1" ry="2.8" fill="#a60000"/>
<text x="446" y="141.95" font-size="8.3" textLength="25.2" lengthAdjust="spacingAndGlyphs" stroke="#000" stroke-width="0.25" >12 - 16</text>
<ellipse cx="427" cy="154.20" rx="3.1" ry="2.8" fill="#ff0505"/>
<text x="446" y="157.50" font-size="8.3" textLength="25.2" lengthAdjust="spacingAndGlyphs" stroke="#000" stroke-width="0.25" >16 - 20</text>
<text x="366.3" y="172.5" font-size="9.4" font-weight="bold" textLength="113.3" lengthAdjust="spacingAndGlyphs" stroke="#000" stroke-width="0.2" >Total Depth Water Table</text>
<rect x="432.3" y="181.25" width="25.2" height="10.8" fill="#66ff22" stroke="#2a8a10" stroke-width="0.6"/>
<text x="462.2" y="189.45" font-size="8.1" textLength="15.8" lengthAdjust="spacingAndGlyphs" stroke="#000" stroke-width="0.25" >0 - 4</text>
<rect x="432.3" y="196.45" width="25.2" height="10.8" fill="#ffff80" stroke="#c0c070" stroke-width="0.6"/>
<text x="462.2" y="204.65" font-size="8.1" textLength="15.8" lengthAdjust="spacingAndGlyphs" stroke="#000" stroke-width="0.25" >4 - 8</text>
<rect x="432.3" y="211.65" width="25.2" height="10.8" fill="#a010f0" stroke="#6a10a0" stroke-width="0.6"/>
<text x="462.2" y="219.85" font-size="8.1" textLength="20.5" lengthAdjust="spacingAndGlyphs" stroke="#000" stroke-width="0.25" >8 - 12</text>
<rect x="432.3" y="226.85" width="25.2" height="10.8" fill="#a00000" stroke="#600000" stroke-width="0.6"/>
<text x="462.2" y="235.05" font-size="8.1" textLength="24.4" lengthAdjust="spacingAndGlyphs" stroke="#000" stroke-width="0.25" >12 - 16</text>
<rect x="432.3" y="242.05" width="25.2" height="10.8" fill="#ff0000" stroke="#ff0000" stroke-width="0.6"/>
<text x="462.2" y="250.25" font-size="8.1" textLength="24.8" lengthAdjust="spacingAndGlyphs" stroke="#000" stroke-width="0.25" >16 - 20</text>
<path d="M395.40,216.90 L383.75,209.55 A14.4,12.5 0 0 1 400.33,205.15 Z" fill="#ffff66" stroke="#000" stroke-width="0.63" stroke-linejoin="round"/>
<path d="M395.40,216.90 L400.33,205.15 A14.4,12.5 0 0 1 409.80,217.12 Z" fill="#a0ff80" stroke="#000" stroke-width="0.63" stroke-linejoin="round"/>
<path d="M395.40,216.90 L409.80,217.12 A14.4,12.5 0 0 1 400.33,228.65 Z" fill="#ff0000" stroke="#000" stroke-width="0.63" stroke-linejoin="round"/>
<path d="M395.40,216.90 L400.33,228.65 A14.4,12.5 0 0 1 383.60,224.07 Z" fill="#a80000" stroke="#000" stroke-width="0.63" stroke-linejoin="round"/>
<path d="M395.40,216.90 L383.60,224.07 A14.4,12.5 0 0 1 383.75,209.55 Z" fill="#a010f0" stroke="#000" stroke-width="0.63" stroke-linejoin="round"/>
<ellipse cx="395.4" cy="216.9" rx="14.4" ry="12.5" fill="none" stroke="#000" stroke-width="0.9"/>
<text x="366.3" y="267" font-size="9.2" font-weight="bold" textLength="43.4" lengthAdjust="spacingAndGlyphs" stroke="#000" stroke-width="0.2" >Elevation</text>
<text x="451.3" y="267" font-size="9.2" font-weight="bold" textLength="45" lengthAdjust="spacingAndGlyphs" stroke="#000" stroke-width="0.2" >Boundary</text>
<rect x="367.2" y="271.50" width="22.3" height="9.7" fill="#076fb3" stroke="#0e5f9c" stroke-width="0.5"/>
<text x="393.8" y="279.50" font-size="8.1" textLength="31.8" lengthAdjust="spacingAndGlyphs" stroke="#000" stroke-width="0.25" >120 -199</text>
<rect x="367.2" y="285.00" width="22.3" height="9.7" fill="#737496" stroke="#5f5f80" stroke-width="0.5"/>
<text x="393.8" y="293.00" font-size="8.1" textLength="33.8" lengthAdjust="spacingAndGlyphs" stroke="#000" stroke-width="0.25" >199 - 233</text>
<rect x="367.2" y="298.30" width="22.3" height="9.7" fill="#fffcb6" stroke="#d8d6a0" stroke-width="0.5"/>
<text x="393.8" y="306.30" font-size="8.1" textLength="33.8" lengthAdjust="spacingAndGlyphs" stroke="#000" stroke-width="0.25" >233 - 274</text>
<rect x="367.2" y="311.60" width="22.3" height="9.7" fill="#fdbc66" stroke="#d8a060" stroke-width="0.5"/>
<text x="393.8" y="319.60" font-size="8.1" textLength="33.8" lengthAdjust="spacingAndGlyphs" stroke="#000" stroke-width="0.25" >274 - 334</text>
<rect x="367.2" y="325.00" width="22.3" height="9.7" fill="#e83434" stroke="#c82828" stroke-width="0.5"/>
<text x="393.2" y="333.00" font-size="8.1" textLength="34" lengthAdjust="spacingAndGlyphs" stroke="#000" stroke-width="0.25" >334 - 446</text>
<rect x="443.6" y="280.1" width="30" height="12.2" rx="0.6" fill="#fff" stroke="#555" stroke-width="0.9"/>
<polyline points="447.3,290 447.3,283.9 452.6,283.9 458.9,290.5 465.9,290.5 470.7,283.8" fill="none" stroke="#f0a622" stroke-width="1.1"/>
<rect x="443.6" y="305.1" width="30" height="12.2" rx="0.6" fill="#fff" stroke="#555" stroke-width="0.9"/>
<polyline points="447.3,314.5 447.3,308.8 452.6,308.7 458.9,315.1 465.3,315.1 469.7,308.2" fill="none" stroke="#333" stroke-width="1.1"/>
<text x="481.2" y="291.9" font-size="9.6" textLength="48.5" lengthAdjust="spacingAndGlyphs" stroke="#000" stroke-width="0.25" >Subdivision</text>
<text x="481.2" y="315.8" font-size="9.6" textLength="29.3" lengthAdjust="spacingAndGlyphs" stroke="#000" stroke-width="0.25" >Quater</text>
<rect x="19" y="306.5" width="9.00" height="3.4" fill="#000"/>
<rect x="28" y="306.7" width="9.10" height="3.0" fill="#fff" stroke="#bbb" stroke-width="0.4"/>
<rect x="37.1" y="306.5" width="8.80" height="3.4" fill="#000"/>
<rect x="45.9" y="306.7" width="9.30" height="3.0" fill="#fff" stroke="#bbb" stroke-width="0.4"/>
<rect x="55.2" y="306.5" width="36.60" height="3.4" fill="#000"/>
<rect x="91.8" y="306.7" width="35.70" height="3.0" fill="#fff" stroke="#bbb" stroke-width="0.4"/>
<rect x="127.5" y="306.5" width="36.30" height="3.4" fill="#000"/>
<text x="18.75" y="303.5" font-size="6.5" text-anchor="middle" textLength="3.1" lengthAdjust="spacingAndGlyphs" stroke="#000" stroke-width="0.25" >0</text>
<text x="36.5" y="303.5" font-size="6.5" text-anchor="middle" textLength="12.9" lengthAdjust="spacingAndGlyphs" stroke="#000" stroke-width="0.25" >0.35</text>
<text x="55.1" y="303.5" font-size="6.5" text-anchor="middle" textLength="8.3" lengthAdjust="spacingAndGlyphs" stroke="#000" stroke-width="0.25" >0.7</text>
<text x="90.9" y="303.5" font-size="6.5" text-anchor="middle" textLength="8.6" lengthAdjust="spacingAndGlyphs" stroke="#000" stroke-width="0.25" >1.4</text>
<text x="127.1" y="303.5" font-size="6.5" text-anchor="middle" textLength="8.6" lengthAdjust="spacingAndGlyphs" stroke="#000" stroke-width="0.25" >2.1</text>
<text x="163.5" y="303.5" font-size="6.5" text-anchor="middle" textLength="8.8" lengthAdjust="spacingAndGlyphs" stroke="#000" stroke-width="0.25" >2.8</text>
<text x="89.75" y="318.6" font-size="7.2" text-anchor="middle" textLength="34.5" lengthAdjust="spacingAndGlyphs" stroke="#000" stroke-width="0.25" >Kilometers</text>
<text x="264.5" y="296.7" font-size="8.7" text-anchor="middle" textLength="51" lengthAdjust="spacingAndGlyphs" stroke="#000" stroke-width="0.25" >Data Source:</text>
<text x="264.5" y="305" font-size="8.7" text-anchor="middle" textLength="65" lengthAdjust="spacingAndGlyphs" stroke="#000" stroke-width="0.25" >- GPS Collection</text>
<text x="264.5" y="312.8" font-size="8.7" text-anchor="middle" textLength="68" lengthAdjust="spacingAndGlyphs" stroke="#000" stroke-width="0.25" >- Mesearing Tape</text>
<text x="264.5" y="322.9" font-size="8.7" text-anchor="middle" textLength="123" lengthAdjust="spacingAndGlyphs" stroke="#000" stroke-width="0.25" >Realised by: BEPUAKA EKUKA</text>
<text x="264.5" y="330.7" font-size="8.7" text-anchor="middle" textLength="42.5" lengthAdjust="spacingAndGlyphs" stroke="#000" stroke-width="0.25" >14/10/2017</text>
</svg>
</body></html>
